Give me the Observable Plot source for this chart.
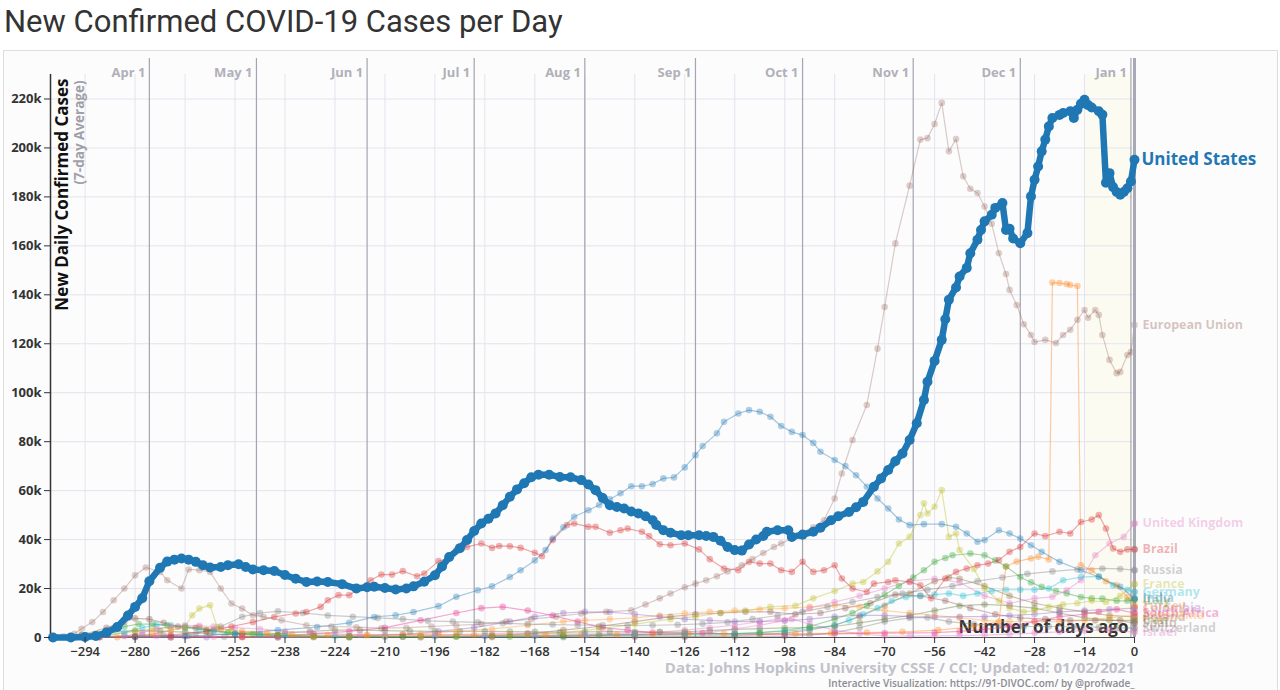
<!DOCTYPE html>
<html><head><meta charset="utf-8">
<script src="https://cdn.jsdelivr.net/npm/d3@7"></script>
<script src="https://cdn.jsdelivr.net/npm/@observablehq/plot@0.6"></script>
<style>
body{margin:0;background:#fff;font-family:"Open Sans",sans-serif;}
#title{position:absolute;left:4px;top:3px;font-family:Roboto,sans-serif;font-size:31px;color:#333;white-space:nowrap;}
#chart{position:absolute;left:3px;top:50px;width:1275px;height:640px;border:1px solid #ddd;border-bottom:none;box-sizing:border-box;background:#fcfcfd;}
#chart svg{overflow:visible;}
</style></head><body>
<div id="title">New Confirmed COVID-19 Cases per Day</div>
<div id="chart"></div>
<script>
// values: [days ago, new daily cases in thousands (7-day average)]
const unitedStates = [[-303,0],[-298,0],[-294,0.2],[-291,0.6],[-288,2],[-285,4.3],[-282,9],[-280,12.5],[-278,16],[-276,23],[-273,28.5],[-271,31],[-269,31.8],[-267,32.3],[-265,31.8],[-263,30.9],[-261,29.5],[-259,28.6],[-256,28.8],[-254,29.5],[-251,29.9],[-249,28.8],[-247,27.8],[-244,27.5],[-241,27.2],[-238,25.5],[-235,24],[-232,22.7],[-229,22.9],[-226,22.7],[-222,21.8],[-218,20],[-215,20.5],[-213,20.7],[-210,20.2],[-207,19.6],[-204,20],[-202,20.9],[-199,22.8],[-196,25.4],[-194,29],[-192,32.9],[-189,36.5],[-187,39.8],[-185,43.5],[-183,46.6],[-181,48.5],[-179,50.7],[-177,54],[-175,57.5],[-173,60.5],[-171,63],[-169,65.5],[-167,66.5],[-164,66.5],[-161,65.6],[-158,65.5],[-155,64.3],[-153,62.5],[-151,60.2],[-149,57],[-147,54],[-145,53.3],[-143,52.7],[-141,51.5],[-139,50.7],[-137,49.5],[-135,47.9],[-134,46],[-132,43.8],[-130,42.8],[-127,41.8],[-125,41.8],[-122,41.8],[-120,41.5],[-118,41.1],[-116,39.5],[-114,37],[-112,35.7],[-110,35.5],[-108,38],[-106,40],[-104,41.5],[-103,43.2],[-100,43.8],[-97,43.8],[-96,41.1],[-93,42],[-90,43.2],[-88,44.8],[-85,47.9],[-83,49.5],[-80,51.3],[-78,53.2],[-76,55.4],[-73,61.6],[-71,65],[-69,68.4],[-67,72],[-65,75.2],[-63,80.7],[-61,87.5],[-59,97],[-58,104.5],[-56,113],[-54,121.6],[-53,130],[-52,138],[-50,143],[-49,147.5],[-47,151],[-46,157],[-44,162.5],[-43,166.5],[-42,170],[-40,172.7],[-39,175.5],[-37,177.5],[-36,166.5],[-35,167],[-34,163],[-32,161.1],[-30,165.2],[-29,180.2],[-28,187],[-27,192.4],[-26,198.6],[-25,203.4],[-24,208.8],[-23,212.2],[-21,213.5],[-20,214.3],[-18,215],[-17,212.2],[-16,215.6],[-15,218],[-14,219.7],[-13,217.5],[-12,216.5],[-10,215],[-9,213.6],[-8,185.8],[-7,189.7],[-6,184],[-5,182],[-4,180.9],[-3,182],[-2,183.5],[-1,186.3],[0,195.2]];
const europeanUnion = [[-303,0.2],[-300,0.5],[-297,1.5],[-295,3.6],[-292,6.3],[-289,10.4],[-286,15.2],[-283,20],[-280,25.4],[-277,28.6],[-273,26.8],[-271,23.4],[-267,20],[-265,27.8],[-262,27.5],[-259,26.8],[-256,20],[-253,13.9],[-250,11.8],[-247,9.1],[-244,8.4],[-239,7],[-232,5],[-225,4.5],[-218,4.2],[-211,3.8],[-204,4],[-197,4.5],[-190,5],[-183,5.5],[-176,6.5],[-169,7.5],[-162,8.5],[-155,9.8],[-148,10.5],[-141,11.1],[-137,13.5],[-133,16],[-130,18],[-126,20.5],[-123,22],[-120,23.4],[-117,25],[-114,27],[-110,29.5],[-107,32],[-104,34.5],[-101,37],[-99,38.4],[-96,40.5],[-93,43],[-90,45],[-87,47.9],[-84,56.8],[-82,67],[-79,80.7],[-75,95],[-72,118],[-70,135],[-67,161],[-63,184.6],[-60,203.4],[-58,204],[-56,209.8],[-54,218.4],[-52,198.6],[-50,203.6],[-48,188.4],[-46,183.3],[-44,181.6],[-42,176.1],[-40,169],[-38,157],[-36,148.5],[-35,142],[-33,135.8],[-31,128],[-29,123.6],[-28,120.7],[-25,121.6],[-22,120.3],[-20,123.6],[-18,125.7],[-16,129.8],[-14,133.8],[-13,130.6],[-11,133.8],[-10,131.8],[-9,123.6],[-7,113.4],[-5,108],[-4,108.5],[-2,115.4],[-1,116.6],[0,127.7]];
const india = [[-303,0],[-280,0.2],[-266,0.5],[-252,1.5],[-240,3],[-229,4.3],[-220,6],[-213,8.4],[-207,9.1],[-202,10.4],[-195,12.8],[-190,16.6],[-184,19.3],[-180,20.9],[-175,24.7],[-172,27.5],[-168,31.5],[-165,35.7],[-163,40.4],[-160,45],[-157,49.3],[-153,52],[-150,54.1],[-147,56.5],[-144,58.9],[-141,61.8],[-138,61.8],[-135,62.7],[-132,65],[-129,65.4],[-126,69.5],[-123,74.5],[-121,78.2],[-117,83.4],[-115,88.1],[-111,91.5],[-108,92.9],[-105,92.2],[-102,90.2],[-99,86.4],[-96,84],[-93,82.7],[-90,79.5],[-88,75.9],[-84,72.5],[-81,70],[-78,66.3],[-75,61.6],[-72,56.8],[-69,52.7],[-66,48.2],[-63,45.9],[-59,46.3],[-54,46.3],[-50,45.2],[-47,42.5],[-44,39.1],[-42,39.8],[-38,43.8],[-35,42.5],[-32,40.4],[-29,37.7],[-26,35],[-21,30.9],[-15,27.5],[-10,24.7],[-4,20.7],[0,16]];
const brazil = [[-303,0],[-290,0.1],[-280,0.5],[-270,1],[-260,2.5],[-253,4.5],[-247,6.3],[-241,8.4],[-235,9.8],[-232,10.4],[-228,12.5],[-226,15.2],[-223,17.3],[-220,17.3],[-214,23.4],[-211,25.7],[-208,25.7],[-205,27.1],[-201,25],[-199,26.1],[-195,31.2],[-192,32.3],[-190,35.7],[-187,37],[-183,38.4],[-180,36.6],[-178,37.4],[-175,37.3],[-172,36.6],[-168,34.6],[-166,33.2],[-163,39.8],[-159,45.9],[-157,46.6],[-153,45.2],[-151,45.2],[-147,42.8],[-144,43.8],[-142,44.5],[-138,43.2],[-136,41.4],[-133,38.1],[-130,37.7],[-126,38.4],[-122,36],[-119,32],[-115,28.2],[-111,27.5],[-108,30.9],[-105,30.2],[-102,30.2],[-99,27.5],[-96,26.8],[-93,30.9],[-90,26.8],[-87,27.5],[-84,29.5],[-82,24.1],[-79,20],[-75,18.6],[-73,22],[-69,22.7],[-67,23.4],[-63,22.7],[-60,21.3],[-57,16],[-53,24.1],[-50,26.8],[-47,28.2],[-44,29.5],[-41,30.2],[-38,31.6],[-35,35],[-32,37],[-28,42.5],[-25,41.4],[-21,43.2],[-18,42.5],[-15,47.2],[-12,48.2],[-10,50],[-8,44.5],[-6,36.4],[-4,35],[-2,36],[0,36]];
const unitedKingdom = [[-303,0],[-290,0.1],[-283,0.5],[-278,2],[-274,3.5],[-270,4.5],[-266,5],[-262,4.8],[-258,4.5],[-252,4],[-245,3.5],[-238,2.5],[-231,2],[-224,1.5],[-217,1.2],[-210,1],[-196,0.7],[-182,0.6],[-168,0.7],[-154,0.8],[-140,1],[-126,1.3],[-119,2],[-112,3.5],[-105,5],[-98,7],[-91,12],[-84,14.5],[-77,17],[-70,20],[-63,23],[-56,24],[-49,22.5],[-42,17],[-35,14],[-28,16],[-23,16.6],[-19,19.3],[-15,23.4],[-11,33.6],[-7,38.4],[-3,41.1],[0,46.6]];
const russia = [[-303,0],[-280,0.1],[-270,0.5],[-263,1.5],[-256,4.5],[-250,8.5],[-245,10],[-240,10.7],[-233,10],[-226,9],[-219,8.5],[-212,8],[-205,7.5],[-198,6.8],[-191,6.5],[-184,6.2],[-177,5.8],[-170,5.5],[-163,5.3],[-156,5.1],[-149,5],[-142,4.9],[-135,5],[-128,5.2],[-121,5.6],[-114,6.2],[-107,7.5],[-100,9],[-93,10.5],[-86,12.5],[-79,14.5],[-72,16.5],[-65,18],[-58,19.5],[-51,21],[-44,23],[-37,24.5],[-30,26],[-23,27],[-16,27.8],[-9,28.2],[-4,28],[0,27.5]];
const france = [[-303,0.2],[-290,0.5],[-280,2.5],[-275,3.5],[-270,4],[-266,4.5],[-264,9.1],[-262,11.8],[-259,13.2],[-257,4.3],[-253,2.5],[-248,1.5],[-240,1],[-230,0.5],[-220,0.4],[-210,0.5],[-200,0.5],[-190,0.6],[-180,0.8],[-170,1.2],[-160,2],[-150,3.5],[-140,5.5],[-130,7.5],[-123,8.5],[-116,10],[-109,11],[-102,12.5],[-95,13],[-90,16],[-84,19],[-79,22],[-76,22.7],[-72,27],[-69,30.9],[-66,38.4],[-63,41.1],[-60,50],[-59,54.8],[-58,50.7],[-56,53.4],[-54,60.2],[-52,41.1],[-50,42.5],[-49,35.7],[-45,28],[-42,20],[-38,15],[-35,12],[-31,10.5],[-28,11],[-24,12.5],[-20,13.5],[-16,14],[-12,15],[-8,14.5],[-4,17],[0,21.8]];
const germany = [[-303,0.1],[-290,0.5],[-283,2],[-278,4],[-274,5.2],[-270,5],[-266,4.5],[-262,3.5],[-258,2.5],[-252,1.5],[-245,1],[-238,0.8],[-224,0.5],[-210,0.4],[-196,0.4],[-182,0.5],[-168,0.7],[-154,1],[-140,1.2],[-126,1.3],[-112,1.5],[-105,2],[-98,2.5],[-91,3.5],[-84,5],[-80,7],[-76,9.5],[-72,12],[-68,15],[-64,16.5],[-60,17],[-56,17.5],[-52,18],[-48,17],[-44,18],[-40,19],[-36,19.5],[-32,19.5],[-28,19.5],[-24,20],[-20,23.4],[-15,24.7],[-10,25],[-6,21.3],[-2,19.5],[0,18.6]];
const italy = [[-303,0.2],[-295,0.5],[-290,1.5],[-286,3],[-283,4.5],[-279,5.5],[-275,5.5],[-271,5],[-266,4],[-260,3],[-254,2],[-247,1.5],[-240,1],[-230,0.6],[-220,0.4],[-205,0.3],[-190,0.3],[-175,0.3],[-160,0.5],[-150,0.9],[-140,1.2],[-126,1.5],[-112,1.6],[-105,2],[-98,2.8],[-91,4.5],[-84,7.5],[-79,10],[-75,13],[-70,17.5],[-66,21],[-62,24.5],[-59,27.5],[-56,30.9],[-53,32.5],[-51,33.6],[-46,34.3],[-42,33.6],[-39,31.5],[-36,29],[-32,24.7],[-29,22.5],[-26,20.7],[-22,19],[-19,18],[-15,16.5],[-12,16],[-9,15.9],[-5,15],[-2,15],[0,15.4]];
const turkey = [[-303,0],[-285,0.1],[-280,0.5],[-275,1.5],[-270,3],[-266,4],[-262,4.3],[-256,3.5],[-250,2.5],[-243,1.8],[-236,1.3],[-226,1],[-215,1.1],[-205,1.3],[-195,1.2],[-185,1.1],[-175,1],[-165,1],[-155,1.1],[-145,1.2],[-135,1.4],[-125,1.6],[-115,1.6],[-105,1.6],[-95,1.6],[-85,1.7],[-75,2],[-65,2.3],[-55,3],[-45,4.5],[-38,6.5],[-36,29],[-33,31],[-29,32.3],[-27,33],[-24,31.9],[-23,145],[-21,144.8],[-19,144.4],[-18,144],[-16,143.6],[-15,29.5],[-12,27.5],[-8,23],[-5,21.3],[-2,16.6],[0,12.8]];
const southAfrica = [[-303,0],[-270,0.05],[-250,0.3],[-240,0.6],[-230,1.5],[-220,2.5],[-210,4],[-200,7],[-190,10],[-183,12],[-177,12.5],[-170,11],[-163,9],[-156,6.5],[-149,4],[-142,3],[-135,2],[-121,1.8],[-112,1.4],[-98,1.2],[-84,1.5],[-70,1.8],[-56,2],[-49,2.5],[-42,3.3],[-35,4.5],[-28,6.5],[-21,8.5],[-14,9.5],[-10,10.5],[-5,11.5],[0,10]];
const colombia = [[-303,0],[-260,0.1],[-240,0.3],[-220,0.6],[-205,1.2],[-195,2.5],[-185,4],[-175,6.5],[-168,8.5],[-160,10],[-154,10.5],[-147,10.4],[-140,9.5],[-133,8.5],[-126,7.5],[-119,7],[-112,6.5],[-105,6.5],[-98,6.8],[-91,7.5],[-84,8.5],[-77,9],[-70,9],[-63,8.5],[-56,8.3],[-49,8.5],[-42,8.5],[-35,9],[-28,9.5],[-21,10.5],[-14,11],[-7,11.5],[0,12]];
const argentina = [[-303,0],[-250,0.1],[-230,0.3],[-215,0.8],[-200,1.5],[-190,2.5],[-180,3.5],[-170,5],[-160,6.5],[-154,7],[-147,7.5],[-140,8],[-133,9],[-126,9.9],[-119,10.5],[-112,11],[-105,11.5],[-98,11.9],[-91,12.5],[-84,13.2],[-77,12.5],[-70,11],[-63,10],[-56,9],[-49,8],[-42,7],[-35,6.5],[-28,6.5],[-21,6.5],[-14,7],[-7,8],[0,9]];
const poland = [[-303,0],[-270,0.1],[-250,0.3],[-230,0.4],[-200,0.35],[-180,0.4],[-160,0.6],[-140,0.7],[-126,0.6],[-112,0.8],[-105,1.2],[-98,1.8],[-91,3],[-84,5],[-77,8.5],[-70,13],[-63,18],[-56,23],[-52,24.5],[-49,24],[-42,21],[-35,17],[-28,14],[-21,12],[-14,10.5],[-7,9],[0,8.4]];
const iran = [[-303,0.5],[-295,1],[-288,2],[-280,2.8],[-273,2.6],[-266,2.2],[-259,1.5],[-252,1.2],[-245,1.3],[-238,1.8],[-231,2.5],[-224,3],[-217,3],[-210,2.8],[-203,2.6],[-196,2.5],[-189,2.5],[-182,2.5],[-175,2.4],[-168,2.3],[-161,2.1],[-154,2.3],[-147,2.4],[-140,2.3],[-133,2.2],[-126,2.3],[-119,2.8],[-112,3.3],[-105,3.6],[-98,3.9],[-91,4],[-84,4.5],[-77,6],[-70,7.5],[-63,9],[-56,11],[-49,13],[-42,13.5],[-35,13],[-28,12],[-21,10],[-14,8],[-7,7],[0,7]];
const spain = [[-303,0.05],[-295,1],[-288,4],[-283,6.5],[-280,7.8],[-276,7.5],[-272,6],[-268,4.5],[-263,4],[-258,3],[-250,1.5],[-240,0.8],[-230,0.4],[-220,0.3],[-205,0.3],[-190,0.4],[-180,0.8],[-170,1.5],[-160,3],[-150,4.5],[-140,6.5],[-130,8.5],[-123,9.5],[-116,10],[-109,10.5],[-102,10.5],[-95,9.5],[-88,10],[-81,12],[-74,14],[-67,17.5],[-60,17],[-53,15],[-46,12],[-39,9.5],[-32,8],[-25,7.5],[-18,7],[-11,7],[-4,7],[0,5.8]];
const switzerland = [[-303,0],[-290,0.3],[-283,0.8],[-278,1.1],[-272,1],[-265,0.6],[-255,0.3],[-240,0.05],[-220,0.02],[-200,0.05],[-180,0.1],[-160,0.15],[-140,0.2],[-126,0.25],[-112,0.35],[-98,0.5],[-91,1],[-84,2],[-77,4],[-70,6.5],[-63,8],[-58,8.2],[-52,6.5],[-45,5.5],[-38,4.8],[-31,4.5],[-24,4.5],[-17,4.4],[-10,4.2],[-5,4],[0,3.8]];
const israel = [[-303,0],[-290,0.1],[-280,0.4],[-274,0.6],[-266,0.5],[-258,0.3],[-250,0.15],[-240,0.05],[-230,0.05],[-220,0.1],[-210,0.3],[-200,0.7],[-190,1.2],[-180,1.6],[-170,1.7],[-160,1.5],[-150,1.5],[-140,1.8],[-133,2.2],[-126,3],[-119,4],[-112,5],[-105,6.5],[-100,7.5],[-96,7.5],[-91,5.5],[-84,3],[-77,1.5],[-70,0.7],[-63,0.6],[-56,0.7],[-49,0.8],[-42,1],[-35,1.4],[-28,1.8],[-21,2.3],[-14,2.8],[-7,3],[0,2.2]];

const fadedNames = ["Israel","Switzerland","Spain","Iran","Poland","Argentina","Colombia","South Africa","Turkey","Italy","Germany","France","Russia","United Kingdom","Brazil","India"];
const fadedSeries = [israel, switzerland, spain, iran, poland, argentina, colombia, southAfrica, turkey, italy, germany, france, russia, unitedKingdom, brazil, india];
const fadedColors = ["#e377c2","#7f7f7f","#8c564b","#637939","#8c6d31","#ff9d3c","#9467bd","#e7298a","#ff7f0e","#2ca02c","#17becf","#bcbd22","#7f7f7f","#e377c2","#d62728","#1f77b4"];

const monthLabels = ["Apr 1","May 1","Jun 1","Jul 1","Aug 1","Sep 1","Oct 1","Nov 1","Dec 1","Jan 1"];
const monthDates = ["2020-04-01","2020-05-01","2020-06-01","2020-07-01","2020-08-01","2020-09-01","2020-10-01","2020-11-01","2020-12-01","2021-01-01"];
const lastDate = "2021-01-02";
const xTicks = d3.range(-294, 1, 14);
const yTicks = d3.range(0, 221, 20);
const xDomain = [-303.7, 0];
const yDomain = [0, 230];

const toRows = (name, pts) => pts.map(([day, cases]) => ({country: name, day, cases}));
const fadedRows = fadedNames.flatMap((n, i) => toRows(n, fadedSeries[i]));
const euRows = toRows("European Union", europeanUnion);
const usRows = toRows("United States", unitedStates);
const lastOf = rows => rows[rows.length - 1];
const fadedLast = fadedNames.map((n, i) => lastOf(toRows(n, fadedSeries[i])));
const t0 = new Date(lastDate);
const months = monthLabels.map((label, i) => ({label, day: Math.round((new Date(monthDates[i]) - t0) / 864e5)}));
const fmtK = d => d === 0 ? "0" : d + "k";

const plot = Plot.plot({
  width: 1273, height: 638,
  marginLeft: 46, marginRight: 143, marginTop: 23, marginBottom: 52,
  x: {domain: xDomain, axis: null},
  y: {domain: yDomain, axis: null},
  color: {domain: fadedNames, range: fadedColors},
  style: {fontFamily: '"Open Sans", sans-serif', background: "transparent"},
  marks: [
    Plot.rect([[-14, 0]], {x1: d => d[0], x2: d => d[1], fill: "#fcf9e6", fillOpacity: 0.5}),
    Plot.gridY(yTicks, {stroke: "#e3e3ee", strokeOpacity: 1}),
    Plot.gridX(xTicks, {stroke: "#e3e3ee", strokeOpacity: 1}),
    Plot.ruleX(months, {x: "day", stroke: "#a4a4b2", strokeWidth: 1.2, insetTop: -16}),
    Plot.text(months, {x: "day", text: "label", frameAnchor: "top", dy: -7, dx: -4, textAnchor: "end", fill: "#b0b0b8", fontWeight: "bold", fontSize: 13}),
    Plot.ruleY([0], {stroke: "#555"}),
    Plot.ruleX([xDomain[0]], {stroke: "#333", strokeWidth: 1.5}),
    Plot.text(["Number of days ago"], {frameAnchor: "bottom-right", dx: -6, dy: -10, textAnchor: "end", lineAnchor: "middle", fontSize: 17, fontWeight: "bold", fill: "#333"}),
    Plot.line(fadedRows, {x: "day", y: "cases", z: "country", stroke: "country", strokeOpacity: 0.4, strokeWidth: 1.2}),
    Plot.dot(fadedRows, {x: "day", y: "cases", fill: "country", r: 3.3, fillOpacity: 0.35}),
    Plot.line(euRows, {x: "day", y: "cases", stroke: "#8c564b", strokeOpacity: 0.3, strokeWidth: 1.2}),
    Plot.dot(euRows, {x: "day", y: "cases", fill: "#8c564b", r: 3.3, fillOpacity: 0.28}),
    Plot.ruleX([0], {stroke: "#a8a8b6", strokeWidth: 3, insetTop: -16}),
    Plot.line(usRows, {x: "day", y: "cases", stroke: "#1f77b4", strokeWidth: 6.5}),
    Plot.dot(usRows, {x: "day", y: "cases", fill: "#1f77b4", r: 5}),
    Plot.dot(fadedLast, {x: "day", y: "cases", fill: "country", r: 3.3, fillOpacity: 0.35}),
    Plot.text(fadedLast, {x: "day", y: "cases", text: "country", dx: 8, textAnchor: "start", fill: "country", fillOpacity: 0.35, fontWeight: "bold", fontSize: 12.5}),
    Plot.text([lastOf(euRows)], {x: "day", y: "cases", text: "country", dx: 8, textAnchor: "start", fill: "#8c564b", fillOpacity: 0.35, fontWeight: "bold", fontSize: 12.5}),
    Plot.text([lastOf(usRows)], {x: "day", y: "cases", text: "country", dx: 7, textAnchor: "start", fill: "#1f77b4", fontWeight: "bold", fontSize: 17}),
    Plot.axisY(yTicks, {tickSize: 6, tickFormat: fmtK, fontSize: 13, fontWeight: "bold", fill: "#333", stroke: "#333", label: null}),
    Plot.axisX(xTicks, {tickSize: 6, fontSize: 13, fontWeight: "600", fill: "#333", stroke: "#333", label: null}),
    Plot.text(["New Daily Confirmed Cases"], {frameAnchor: "top-left", rotate: -90, textAnchor: "end", lineAnchor: "middle", dx: 12, dy: 4, fontSize: 17, fontWeight: "bold", fill: "#111"}),
    Plot.text(["(7-day Average)"], {frameAnchor: "top-left", rotate: -90, textAnchor: "end", lineAnchor: "middle", dx: 29, dy: 6, fontSize: 13.5, fontWeight: "bold", fill: "#a0a0a8"}),
    Plot.text(["Data: Johns Hopkins University CSSE / CCI; Updated: 01/02/2021"], {frameAnchor: "bottom-right", textAnchor: "end", lineAnchor: "middle", dy: 31, fontSize: 15, fontWeight: "bold", fill: "#c2c2ca"}),
    Plot.text(["Interactive Visualization: https://91-DIVOC.com/ by @profwade_"], {frameAnchor: "bottom-right", textAnchor: "end", lineAnchor: "middle", dy: 46, fontSize: 10, fontWeight: "600", fill: "#8a8a92"})
  ]
});
document.getElementById("chart").appendChild(plot);
</script>
</body></html>
